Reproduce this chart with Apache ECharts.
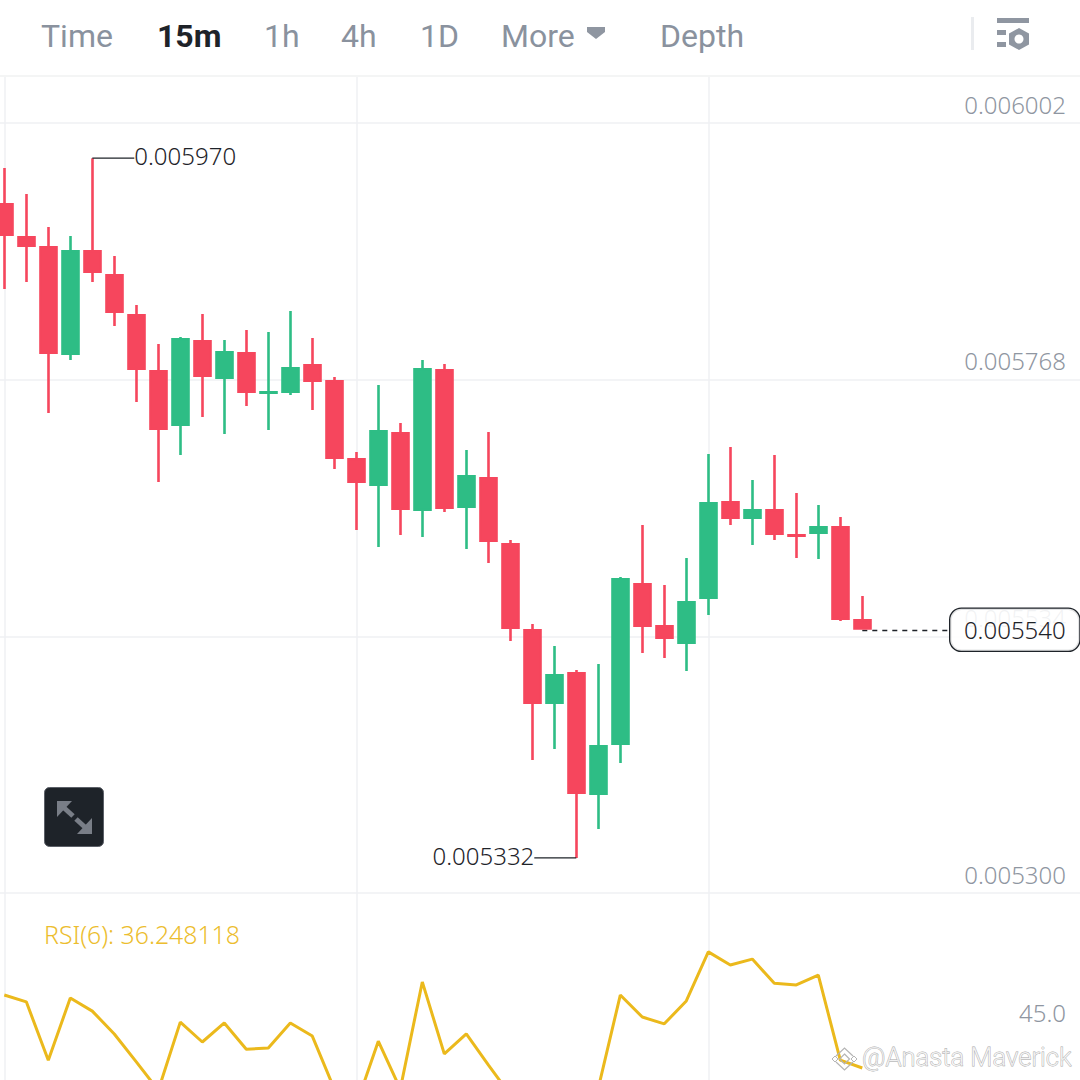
<!DOCTYPE html>
<html>
<head>
<meta charset="utf-8">
<style>
    html, body { margin: 0; padding: 0; background: #fff; }
    #chart { width: 1080px; height: 1080px; }
</style>
<script src="https://cdn.jsdelivr.net/npm/echarts@6/dist/echarts.min.js"></script>
</head>
<body>
<div id="chart"></div>
<script>
// candles, oldest first
var opens = [0.0059291, 0.0058990, 0.0058899, 0.0057905, 0.0058862, 0.0058643, 0.0058279, 0.0057768, 0.0057258, 0.0058042,
    0.0057686, 0.0057932, 0.0057549, 0.0057559, 0.0057823, 0.0057677, 0.0056966, 0.0056711, 0.0057203, 0.0056483,
    0.0057777, 0.0056510, 0.0056793, 0.0056191, 0.0055407, 0.0054723, 0.0055015, 0.0053893, 0.0054349, 0.0055826,
    0.0055443, 0.0055270, 0.0055680, 0.0056574, 0.0056410, 0.0056501, 0.0056273, 0.0056273, 0.0056346, 0.0055498];
var closes = [0.0058990, 0.0058890, 0.0057914, 0.0058862, 0.0058653, 0.0058288, 0.0057768, 0.0057221, 0.0058060, 0.0057704,
    0.0057941, 0.0057559, 0.0057577, 0.0057796, 0.0057659, 0.0056957, 0.0056738, 0.0057221, 0.0056492, 0.0057786,
    0.0056501, 0.0056811, 0.0056200, 0.0055407, 0.0054723, 0.0054997, 0.0053903, 0.0054349, 0.0055872, 0.0055425,
    0.0055316, 0.0055662, 0.0056565, 0.0056410, 0.0056501, 0.0056264, 0.0056246, 0.0056346, 0.0055489, 0.0055400];
var lows = [0.0058507, 0.0058570, 0.0057376, 0.0057859, 0.0058570, 0.0058169, 0.0057476, 0.0056747, 0.0056993, 0.0057340,
    0.0057185, 0.0057440, 0.0057221, 0.0057540, 0.0057404, 0.0056866, 0.0056309, 0.0056154, 0.0056264, 0.0056246,
    0.0056474, 0.0056136, 0.0056009, 0.0055297, 0.0054213, 0.0054313, 0.0053320, 0.0053583, 0.0054185, 0.0055188,
    0.0055142, 0.0055024, 0.0055535, 0.0056355, 0.0056173, 0.0056218, 0.0056054, 0.0056045, 0.0055480, 0.0055400];
var highs = [0.0059610, 0.0059373, 0.0059072, 0.0058990, 0.0059700, 0.0058808, 0.0058361, 0.0058005, 0.0058069, 0.0058279,
    0.0058042, 0.0058133, 0.0058115, 0.0058306, 0.0058060, 0.0057704, 0.0057021, 0.0057631, 0.0057285, 0.0057859,
    0.0057823, 0.0057039, 0.0057203, 0.0056218, 0.0055452, 0.0055252, 0.0055033, 0.0055088, 0.0055881, 0.0056355,
    0.0055808, 0.0056054, 0.0057002, 0.0057066, 0.0056765, 0.0056993, 0.0056647, 0.0056537, 0.0056428, 0.0055708];
var rsi = [53.5, 51.9, 38.1, 52.8, 49.7, 44.3, 37.7, 31.0, 47.1, 42.4,
    46.9, 40.7, 41.0, 46.9, 43.8, 31.3, 27.5, 42.6, 31.3, 56.6,
    39.6, 44.3, 37.0, 29.9, 22.8, 24.0, 19.2, 31.5, 53.5, 48.3,
    46.7, 52.1, 63.7, 60.6, 62.0, 56.3, 55.9, 58.2, 38.1, 36.248118];

var priceTicks = [0.0053, 0.005534, 0.005768, 0.006002];
var rsiTicks = [45];
var timeTabs = ["Time", "15m", "1h", "4h", "1D", "More", "Depth"];
var tabX = [41, 157, 264, 341, 420, 501, 660];
var gridSlots = [0, 16, 32];

// the time axis runs on past the last candle, up to the right edge
var slots = [];
for (var i = 0; i < 50; i++) {
    slots.push(String(i));
}

// the body border adds half its width to each end, so pull the ends in by that much
var BORDER_INSET = 0.0000012;
var candles = opens.map(function (o, i) {
    var c = closes[i];
    var inset = Math.min(BORDER_INSET, Math.abs(o - c) * 0.45);
    var dir = c > o ? 1 : -1;
    return [o + dir * inset, c - dir * inset, lows[i], highs[i]];
});

var highest = Math.max.apply(null, highs);
var lowest = Math.min.apply(null, lows);
var lastPrice = closes[closes.length - 1];

var GREEN = "#2ebd85";
var RED = "#f6465d";
var INK = "#1e2329";
var GREY = "#8a929e";
var LINE = "#eff1f3";
var FONT = "Noto Sans";

function xAxisFor(gridIndex) {
    return {
        type: "category",
        gridIndex: gridIndex,
        data: slots,
        axisLine: { show: false },
        axisTick: { show: false, alignWithLabel: true },
        axisLabel: { show: false },
        splitLine: {
            show: true,
            alignWithLabel: true,
            interval: function (idx) { return gridSlots.indexOf(idx) >= 0; },
            lineStyle: { color: LINE, width: 1.5 }
        }
    };
}

function flagPoint(idx, price, side) {
    return {
        coord: [String(idx), price],
        symbol: "rect",
        symbolSize: [42, 1.3],
        symbolOffset: [side * 21, 0],
        itemStyle: { color: INK },
        label: {
            show: true,
            position: side > 0 ? "right" : "left",
            distance: 0,
            offset: [0, -2.5],
            formatter: price.toFixed(6),
            color: INK,
            fontFamily: FONT,
            fontWeight: 300,
            fontSize: 24
        }
    };
}

var graphics = [
    { type: "rect", shape: { x: 0, y: 75, width: 1080, height: 2 }, style: { fill: "#f4f5f5" }, z: 10 },
    { type: "rect", shape: { x: 971, y: 17, width: 3, height: 33 }, style: { fill: "#eaecef" }, z: 10 },
    // settings icon
    { type: "rect", shape: { x: 997, y: 18, width: 32, height: 5 }, style: { fill: "#8f96a1" }, z: 10 },
    { type: "rect", shape: { x: 997, y: 30, width: 9, height: 5 }, style: { fill: "#8f96a1" }, z: 10 },
    { type: "rect", shape: { x: 997, y: 42, width: 9, height: 5 }, style: { fill: "#8f96a1" }, z: 10 },
    { type: "polygon", shape: { points: [[1019, 28], [1029, 33.5], [1029, 44.5], [1019, 50], [1009, 44.5], [1009, 33.5]] }, style: { fill: "#8f96a1" }, z: 10 },
    { type: "circle", shape: { cx: 1019, cy: 39, r: 4.5 }, style: { fill: "#fff" }, z: 11 },
    // More caret
    { type: "polygon", shape: { points: [[587, 27], [605, 27], [605, 32], [596, 39], [587, 32]] }, style: { fill: "#8f96a1" }, z: 10 },
    // expand button
    { type: "rect", shape: { x: 44.5, y: 787.5, width: 59, height: 59, r: 5 }, style: { fill: INK, stroke: "#5c6068", lineWidth: 1 }, z: 10 },
    { type: "polygon", shape: { points: [[57, 801], [72, 801], [57, 817]] }, style: { fill: "#797e87" }, z: 11 },
    { type: "polygon", shape: { points: [[92, 834], [77, 834], [92, 818]] }, style: { fill: "#797e87" }, z: 11 },
    { type: "line", shape: { x1: 62, y1: 806, x2: 73, y2: 816 }, style: { stroke: "#797e87", lineWidth: 5 }, z: 11 },
    { type: "line", shape: { x1: 76, y1: 819, x2: 87, y2: 829 }, style: { stroke: "#797e87", lineWidth: 5 }, z: 11 },
    // RSI legend
    { type: "text", x: 44, y: 934, style: { text: "RSI(6): " + rsi[rsi.length - 1].toFixed(6), fill: "#ecbd2e", font: "300 24.8px " + FONT, textVerticalAlign: "middle" }, z: 10 },
    // watermark
    { type: "polyline", shape: { points: [[836, 1056], [844.5, 1048], [853, 1056]] }, style: { stroke: "#b5b5b5", fill: "none", lineWidth: 1.2 }, z: 12 },
    { type: "polyline", shape: { points: [[836, 1062], [844.5, 1070], [853, 1062]] }, style: { stroke: "#b5b5b5", fill: "none", lineWidth: 1.2 }, z: 12 },
    { type: "polygon", shape: { points: [[844.5, 1054], [849.5, 1059], [844.5, 1064], [839.5, 1059]] }, style: { stroke: "#b5b5b5", fill: "none", lineWidth: 1.2 }, z: 12 },
    { type: "polygon", shape: { points: [[832, 1059], [835, 1056], [838, 1059], [835, 1062]] }, style: { stroke: "#b5b5b5", fill: "none", lineWidth: 1 }, z: 12 },
    { type: "polygon", shape: { points: [[851, 1059], [854, 1056], [857, 1059], [854, 1062]] }, style: { stroke: "#b5b5b5", fill: "none", lineWidth: 1 }, z: 12 },
    { type: "text", x: 862, y: 1057, style: { text: "@Anasta Maverick", fill: "rgba(255,255,255,0.75)", stroke: "#a8a8a8", lineWidth: 0.8, font: "300 25.6px Roboto", textVerticalAlign: "middle" }, z: 12 }
];

timeTabs.forEach(function (tab, i) {
    var active = tab == "15m";
    graphics.push({
        type: "text",
        x: tabX[i],
        y: 36,
        style: {
            text: tab,
            fill: active ? INK : GREY,
            font: (active ? "700 32px Roboto" : "400 32px Roboto"),
            textVerticalAlign: "middle"
        },
        z: 10
    });
});

var myChart = echarts.init(document.getElementById("chart"), null, { renderer: "svg" });
var option = {
    animation: false,
    backgroundColor: "#fff",
    graphic: graphics,
    grid: [
        { left: -6.7, top: 76, width: 1100, height: 817, outerBoundsMode: "none" },
        { left: -6.7, top: 893, width: 1100, height: 187, outerBoundsMode: "none" }
    ],
    xAxis: [xAxisFor(0), xAxisFor(1)],
    yAxis: [
        {
            type: "value",
            gridIndex: 0,
            position: "right",
            min: 0.0053,
            max: 0.0060449,
            axisLine: { show: false },
            axisTick: { show: false, customValues: priceTicks },
            axisLabel: {
                inside: true,
                margin: 27.3,
                customValues: priceTicks,
                verticalAlign: "bottom",
                padding: [0, 0, 7, 0],
                color: "#8f96a1",
                fontFamily: FONT,
                fontWeight: 300,
                fontSize: 24,
                formatter: function (v) { return v.toFixed(6); }
            },
            splitLine: { show: true, lineStyle: { color: LINE, width: 1.5 } }
        },
        {
            type: "value",
            gridIndex: 1,
            position: "right",
            min: 33.42,
            max: 77.62,
            axisLine: { show: false },
            axisTick: { show: false, customValues: rsiTicks },
            axisLabel: {
                inside: true,
                margin: 27.3,
                customValues: rsiTicks,
                verticalAlign: "bottom",
                padding: [0, 0, 7, 0],
                color: "#8f96a1",
                fontFamily: FONT,
                fontWeight: 300,
                fontSize: 24,
                formatter: function (v) { return v.toFixed(1); }
            },
            splitLine: { show: false }
        }
    ],
    series: [
        {
            type: "candlestick",
            xAxisIndex: 0,
            yAxisIndex: 0,
            data: candles,
            barWidth: 16.5,
            itemStyle: {
                color: GREEN,
                color0: RED,
                borderColor: GREEN,
                borderColor0: RED,
                borderWidth: 2.6
            },
            markPoint: {
                silent: true,
                data: [
                    flagPoint(highs.indexOf(highest), highest, 1),
                    flagPoint(lows.indexOf(lowest), lowest, -1),
                    {
                        coord: [String(closes.length - 1), lastPrice],
                        symbol: "rect",
                        symbolSize: [129, 42],
                        symbolOffset: [152.5, 0],
                        itemStyle: { color: "rgba(255,255,255,0)" },
                        label: {
                            show: true,
                            position: "inside",
                            formatter: lastPrice.toFixed(6),
                            width: 129,
                            height: 42,
                            lineHeight: 40,
                            align: "center",
                            verticalAlign: "middle",
                            backgroundColor: "rgba(255,255,255,0.88)",
                            borderColor: INK,
                            borderWidth: 1.3,
                            borderRadius: 11,
                            color: INK,
                            fontFamily: FONT,
                            fontWeight: 300,
                            fontSize: 24
                        }
                    }
                ]
            },
            markLine: {
                silent: true,
                z: 1,
                symbol: "none",
                label: { show: false },
                lineStyle: { color: INK, type: [5, 5], width: 1.3 },
                data: [[
                    { coord: [String(closes.length - 1), lastPrice] },
                    { coord: [String(closes.length + 3), lastPrice] }
                ]]
            }
        },
        {
            type: "line",
            xAxisIndex: 1,
            yAxisIndex: 1,
            data: rsi,
            showSymbol: false,
            lineStyle: { color: "#ebb91c", width: 3 }
        }
    ]
};
myChart.setOption(option);
</script>
</body>
</html>
